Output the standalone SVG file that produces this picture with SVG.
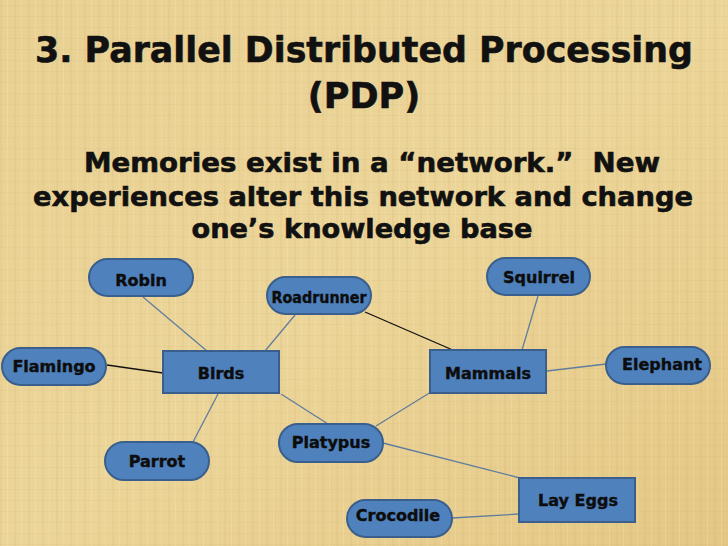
<svg xmlns="http://www.w3.org/2000/svg" width="728" height="546" viewBox="0 0 728 546">
<defs>
<linearGradient id="bg" x1="0" y1="0" x2="1" y2="1">
<stop offset="0" stop-color="#e9d093"/>
<stop offset="0.5" stop-color="#ecd599"/>
<stop offset="1" stop-color="#e4c785"/>
</linearGradient>
<pattern id="tex" width="14" height="11" patternUnits="userSpaceOnUse">
<rect x="0" y="0" width="2" height="11" fill="#c9a862" opacity="0.13"/>
<rect x="7" y="0" width="1" height="11" fill="#f8ebc0" opacity="0.25"/>
<rect x="0" y="5" width="14" height="1" fill="#c9a862" opacity="0.1"/>
</pattern>
<style>
.pill{fill:#4f81bd;stroke:#3a5f8c;stroke-width:2}
.box{fill:#4f81bd;stroke:#3a5f8c;stroke-width:2}
.lbl{font-family:"DejaVu Sans",Verdana,sans-serif;font-weight:bold;fill:#0d0d0d;stroke:#0d0d0d;stroke-width:0.4;text-anchor:middle;font-size:16px}
.ttl{font-family:"DejaVu Sans",Verdana,sans-serif;font-weight:bold;fill:#111;stroke:#111;stroke-width:0.6;text-anchor:middle}
.c{stroke:#607d9e;stroke-width:1.3;fill:none}
.k{stroke:#111;stroke-width:1.3;fill:none}
</style>
</defs>
<rect width="728" height="546" fill="url(#bg)"/>
<rect width="728" height="546" fill="url(#tex)"/>
<g id="title">
<text class="ttl" x="364" y="62" font-size="35" textLength="658" lengthAdjust="spacingAndGlyphs">3. Parallel Distributed Processing</text>
<text class="ttl" x="364" y="108" font-size="35">(PDP)</text>
<text class="ttl" x="372" y="172" font-size="26" textLength="576" lengthAdjust="spacingAndGlyphs">Memories exist in a “network.”&#160; New</text>
<text class="ttl" x="363" y="206" font-size="26" textLength="660" lengthAdjust="spacingAndGlyphs">experiences alter this network and change</text>
<text class="ttl" x="362" y="238" font-size="26" textLength="341" lengthAdjust="spacingAndGlyphs">one’s knowledge base</text>
</g>
<g id="connectors">
<line class="c" x1="143" y1="297" x2="207" y2="351"/>
<line class="c" x1="295" y1="315" x2="265" y2="351"/>
<line class="k" x1="107" y1="365" x2="163" y2="373"/>
<line class="k" x1="365" y1="312" x2="455" y2="351"/>
<line class="c" x1="538" y1="296" x2="522" y2="350"/>
<line class="c" x1="606" y1="364" x2="547" y2="371"/>
<line class="c" x1="218" y1="394" x2="193" y2="442"/>
<line class="c" x1="281" y1="394" x2="328" y2="424"/>
<line class="c" x1="431" y1="392" x2="376" y2="426"/>
<line class="c" x1="383" y1="443" x2="520" y2="478"/>
<line class="c" x1="452" y1="518" x2="519" y2="514"/>
</g>
<g id="robin"><rect class="pill" x="89" y="259" width="104" height="37" rx="18.5"/><text class="lbl" x="141" y="286" font-size="17">Robin</text></g>
<g id="roadrunner"><rect class="pill" x="267" y="277" width="104" height="37" rx="18.5"/><text class="lbl" x="319" y="303" font-size="13.5" textLength="95" lengthAdjust="spacingAndGlyphs">Roadrunner</text></g>
<g id="squirrel"><rect class="pill" x="487" y="258" width="103" height="37" rx="18.5"/><text class="lbl" x="539" y="283" font-size="16.5">Squirrel</text></g>
<g id="flamingo"><rect class="pill" x="2" y="348" width="104" height="37" rx="18.5"/><text class="lbl" x="54" y="372" font-size="15.5">Flamingo</text></g>
<g id="birds"><rect class="box" x="163" y="351" width="116" height="42"/><text class="lbl" x="221" y="379" font-size="17">Birds</text></g>
<g id="mammals"><rect class="box" x="430" y="350" width="116" height="43"/><text class="lbl" x="488" y="379" font-size="17">Mammals</text></g>
<g id="elephant"><rect class="pill" x="606" y="347" width="104" height="37" rx="18.5"/><text class="lbl" x="662" y="370" font-size="16.5">Elephant</text></g>
<g id="platypus"><rect class="pill" x="279" y="424" width="104" height="38" rx="19"/><text class="lbl" x="331" y="448" font-size="16.5">Platypus</text></g>
<g id="parrot"><rect class="pill" x="105" y="442" width="104" height="38" rx="19"/><text class="lbl" x="157" y="467" font-size="16.5">Parrot</text></g>
<g id="layeggs"><rect class="box" x="519" y="478" width="116" height="44"/><text class="lbl" x="578" y="506" font-size="16.5">Lay Eggs</text></g>
<g id="crocodile"><rect class="pill" x="347" y="500" width="105" height="37" rx="18.5"/><text class="lbl" x="398" y="521" font-size="16.5">Crocodile</text></g>
</svg>
